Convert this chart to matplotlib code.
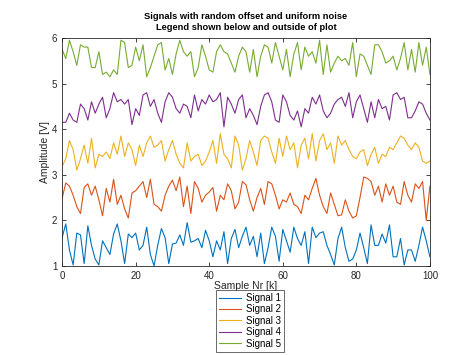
import numpy as np
import matplotlib
matplotlib.use("Agg")
import matplotlib.pyplot as plt

# sample index 0..100
samples = np.arange(101)

signal1 = [1.62, 1.92, 1.35, 1.02, 1.72, 1.68, 1.05, 1.88, 1.45, 1.15,
           1.02, 1.55, 1.40, 1.25, 1.70, 1.92, 1.55, 1.05, 1.70, 1.62,
           1.72, 1.35, 1.45, 1.85, 1.25, 1.00, 1.45, 1.82, 1.62, 1.05,
           1.48, 1.50, 1.68, 1.45, 1.95, 1.52, 1.55, 1.60, 1.40, 1.78,
           1.55, 1.20, 1.55, 1.35, 1.75, 1.05, 1.60, 1.80, 1.40, 1.65,
           1.85, 1.45, 1.65, 1.20, 1.72, 1.05, 1.40, 1.85, 1.65, 1.10,
           1.80, 1.55, 1.30, 1.85, 1.60, 1.45, 1.75, 1.05, 1.85, 1.62,
           1.72, 1.75, 1.45, 1.25, 1.02, 1.60, 1.85, 1.40, 1.10, 1.15,
           1.35, 1.72, 1.40, 1.05, 1.90, 1.45, 1.45, 1.70, 1.50, 1.90,
           1.20, 1.20, 1.60, 1.02, 1.35, 1.35, 1.10, 1.45, 1.85, 1.55,
           1.20]

signal2 = [2.48, 2.82, 2.75, 2.55, 2.30, 2.15, 2.72, 2.80, 2.55, 2.75,
           2.45, 2.10, 2.70, 2.40, 2.90, 2.35, 2.55, 2.25, 2.05, 2.60,
           2.65, 2.75, 2.85, 2.50, 2.90, 2.35, 2.30, 2.20, 2.55, 2.75,
           2.88, 2.65, 2.95, 2.30, 2.75, 2.15, 2.85, 2.70, 2.40, 2.55,
           2.62, 2.72, 2.20, 2.55, 2.45, 2.80, 2.65, 2.25, 2.40, 2.85,
           2.78, 2.45, 2.20, 2.50, 2.70, 2.35, 2.85, 2.80, 2.55, 2.25,
           2.45, 2.40, 2.60, 2.35, 2.30, 2.15, 2.55, 2.45, 2.70, 2.92,
           2.55, 2.30, 2.15, 2.60, 2.35, 2.10, 2.12, 2.45, 2.20, 2.05,
           2.10, 2.50, 2.95, 2.92, 2.85, 2.55, 2.75, 2.40, 2.80, 2.55,
           2.75, 2.40, 2.35, 2.85, 2.55, 2.40, 2.80, 2.70, 2.85, 2.00,
           2.75]

signal3 = [3.18, 3.35, 3.75, 3.55, 3.10, 3.35, 3.65, 3.25, 3.80, 3.15,
           3.45, 3.40, 3.50, 3.35, 3.70, 3.45, 3.85, 3.40, 3.70, 3.55,
           3.20, 3.65, 3.40, 3.70, 3.85, 3.60, 3.65, 3.75, 3.30, 3.55,
           3.75, 3.45, 3.25, 3.15, 3.70, 3.30, 3.40, 3.45, 3.20, 3.30,
           3.50, 3.75, 3.25, 3.90, 3.45, 3.35, 3.15, 3.85, 3.65, 3.10,
           3.35, 3.75, 3.50, 3.20, 3.75, 3.85, 3.80, 3.50, 3.25, 3.80,
           3.40, 3.85, 3.55, 3.70, 3.15, 3.65, 3.80, 3.35, 3.90, 3.30,
           3.75, 3.90, 3.55, 3.70, 3.25, 3.85, 3.65, 3.75, 3.55, 3.40,
           3.35, 3.50, 3.55, 3.20, 3.45, 3.60, 3.25, 3.45, 3.40, 3.60,
           3.55, 3.70, 3.85, 3.80, 3.65, 3.55, 3.70, 3.60, 3.30, 3.25,
           3.30]

signal4 = [4.15, 4.15, 4.35, 4.20, 4.15, 4.55, 4.45, 4.20, 4.60, 4.35,
           4.55, 4.70, 4.25, 4.45, 4.80, 4.60, 4.65, 4.55, 4.65, 4.10,
           4.45, 4.30, 4.75, 4.80, 4.50, 4.65, 4.35, 4.15, 4.60, 4.80,
           4.70, 4.45, 4.35, 4.55, 4.50, 4.25, 4.75, 4.40, 4.65, 4.55,
           4.75, 4.60, 4.65, 4.80, 4.05, 4.70, 4.55, 4.35, 4.65, 4.75,
           4.25, 4.45, 4.30, 4.10, 4.50, 4.75, 4.80, 4.60, 4.20, 4.15,
           4.75, 4.60, 4.30, 4.20, 4.40, 4.05, 4.45, 4.35, 4.70, 4.55,
           4.75, 4.40, 4.25, 4.35, 4.55, 4.65, 4.70, 4.50, 4.80, 4.25,
           4.60, 4.75, 4.45, 4.15, 4.60, 4.25, 4.65, 4.45, 4.50, 4.20,
           4.75, 4.80, 4.65, 4.70, 4.25, 4.25, 4.40, 4.60, 4.55, 4.35,
           4.20]

signal5 = [5.75, 5.55, 5.95, 5.70, 5.40, 5.85, 5.80, 5.80, 5.35, 5.35,
           5.70, 5.20, 5.25, 5.15, 5.30, 5.20, 5.95, 5.90, 5.35, 5.40,
           5.80, 5.50, 5.85, 5.15, 5.35, 5.60, 5.85, 5.90, 5.30, 5.55,
           5.20, 5.65, 5.95, 5.70, 5.60, 5.70, 5.15, 5.35, 5.85, 5.60,
           5.30, 5.25, 5.70, 5.85, 5.70, 5.65, 5.45, 5.25, 5.60, 5.80,
           5.70, 5.25, 5.75, 5.15, 5.60, 5.85, 5.80, 5.45, 5.90, 5.60,
           5.30, 5.75, 5.15, 5.65, 5.90, 5.30, 5.80, 5.60, 5.70, 5.45,
           5.95, 5.20, 5.85, 5.25, 5.45, 5.60, 5.50, 5.55, 5.40, 5.90,
           5.15, 5.65, 5.60, 5.40, 5.20, 5.85, 5.85, 5.70, 5.45, 5.50,
           5.60, 5.30, 5.55, 5.90, 5.30, 5.75, 5.25, 5.90, 5.40, 5.80,
           5.20]

signals = [signal1, signal2, signal3, signal4, signal5]
labels = ["Signal 1", "Signal 2", "Signal 3", "Signal 4", "Signal 5"]
colors = ["#0072BD", "#D95319", "#EDB120", "#7E2F8E", "#77AC30"]

x_ticks = [0, 20, 40, 60, 80, 100]
y_ticks = [1, 2, 3, 4, 5, 6]

plt.rcParams['font.family'] = ['Liberation Sans', 'DejaVu Sans']
axis_col = '#262626'

fig = plt.figure(figsize=(4.74, 3.55), dpi=100)
ax = fig.add_axes([0.131, 0.251, 0.776, 0.642])

for sig, lab, col in zip(signals, labels, colors):
    ax.plot(samples, sig, color=col, linewidth=0.8, label=lab)

ax.set_xlim(0, 100)
ax.set_ylim(1, 6)
ax.set_xticks(x_ticks)
ax.set_yticks(y_ticks)
ax.tick_params(direction='in', top=True, right=True, length=3, width=0.6,
               labelsize=7, colors=axis_col)
for sp in ax.spines.values():
    sp.set_color(axis_col)
    sp.set_linewidth(0.6)

ax.set_xlabel("Sample Nr [k]", fontsize=7.5, color=axis_col, labelpad=0)
ax.set_ylabel("Amplitude [V]", fontsize=7.5, color=axis_col, labelpad=1)
ax.set_title("Signals with random offset and uniform noise\nLegend shown below and outside of plot",
             fontsize=6.7, fontweight='bold', color='black', pad=6, linespacing=1.3)

leg = fig.legend(loc='upper center', bbox_to_anchor=(0.527, 0.183), fontsize=7,
                 frameon=True, fancybox=False, handlelength=2.3, borderpad=0.3,
                 labelspacing=0.15, handletextpad=0.5, borderaxespad=0)
leg.get_frame().set_edgecolor(axis_col)
leg.get_frame().set_linewidth(0.6)

fig.savefig("out.png", dpi=100)
